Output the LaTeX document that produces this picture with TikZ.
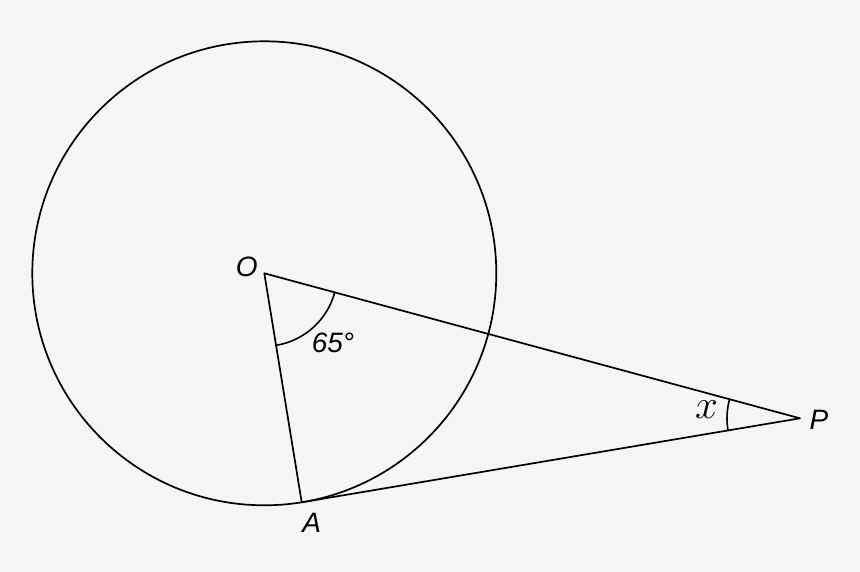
\documentclass[tikz,border=0pt]{standalone}
\usepackage{fontspec}
\setmainfont{Liberation Sans}
\usetikzlibrary{angles}
\definecolor{bg}{RGB}{245,245,245}
\begin{document}
\begin{tikzpicture}[x=1pt,y=-1pt,line width=1.7pt, font=\fontsize{28}{32}\selectfont\itshape, line join=round, line cap=round]
	\fill[bg] (0,0) rectangle (860,572);
	\coordinate (O) at (264.3,273.3);
	\coordinate (A) at (301.7,502.3);
	\coordinate (P) at (800,418.3);
	\draw (O) circle (232);
	\draw (A)--(O)--(P)--cycle;
	\pic[draw,line width=1.6pt,angle radius=73pt] {angle=A--O--P};
	\pic[draw,line width=1.6pt,angle radius=73pt] {angle=O--P--A};
	\node (labO) at (246.7,266.5) {O};
	\node (labA) at (311.7,523) {A};
	\node (labP) at (819,419.5) {P};
	\node (lab65) at (333,343) {65°};
	\node[scale=1.65] (labx) at (706.5,409.5) {$x$};
\end{tikzpicture}
\end{document}
